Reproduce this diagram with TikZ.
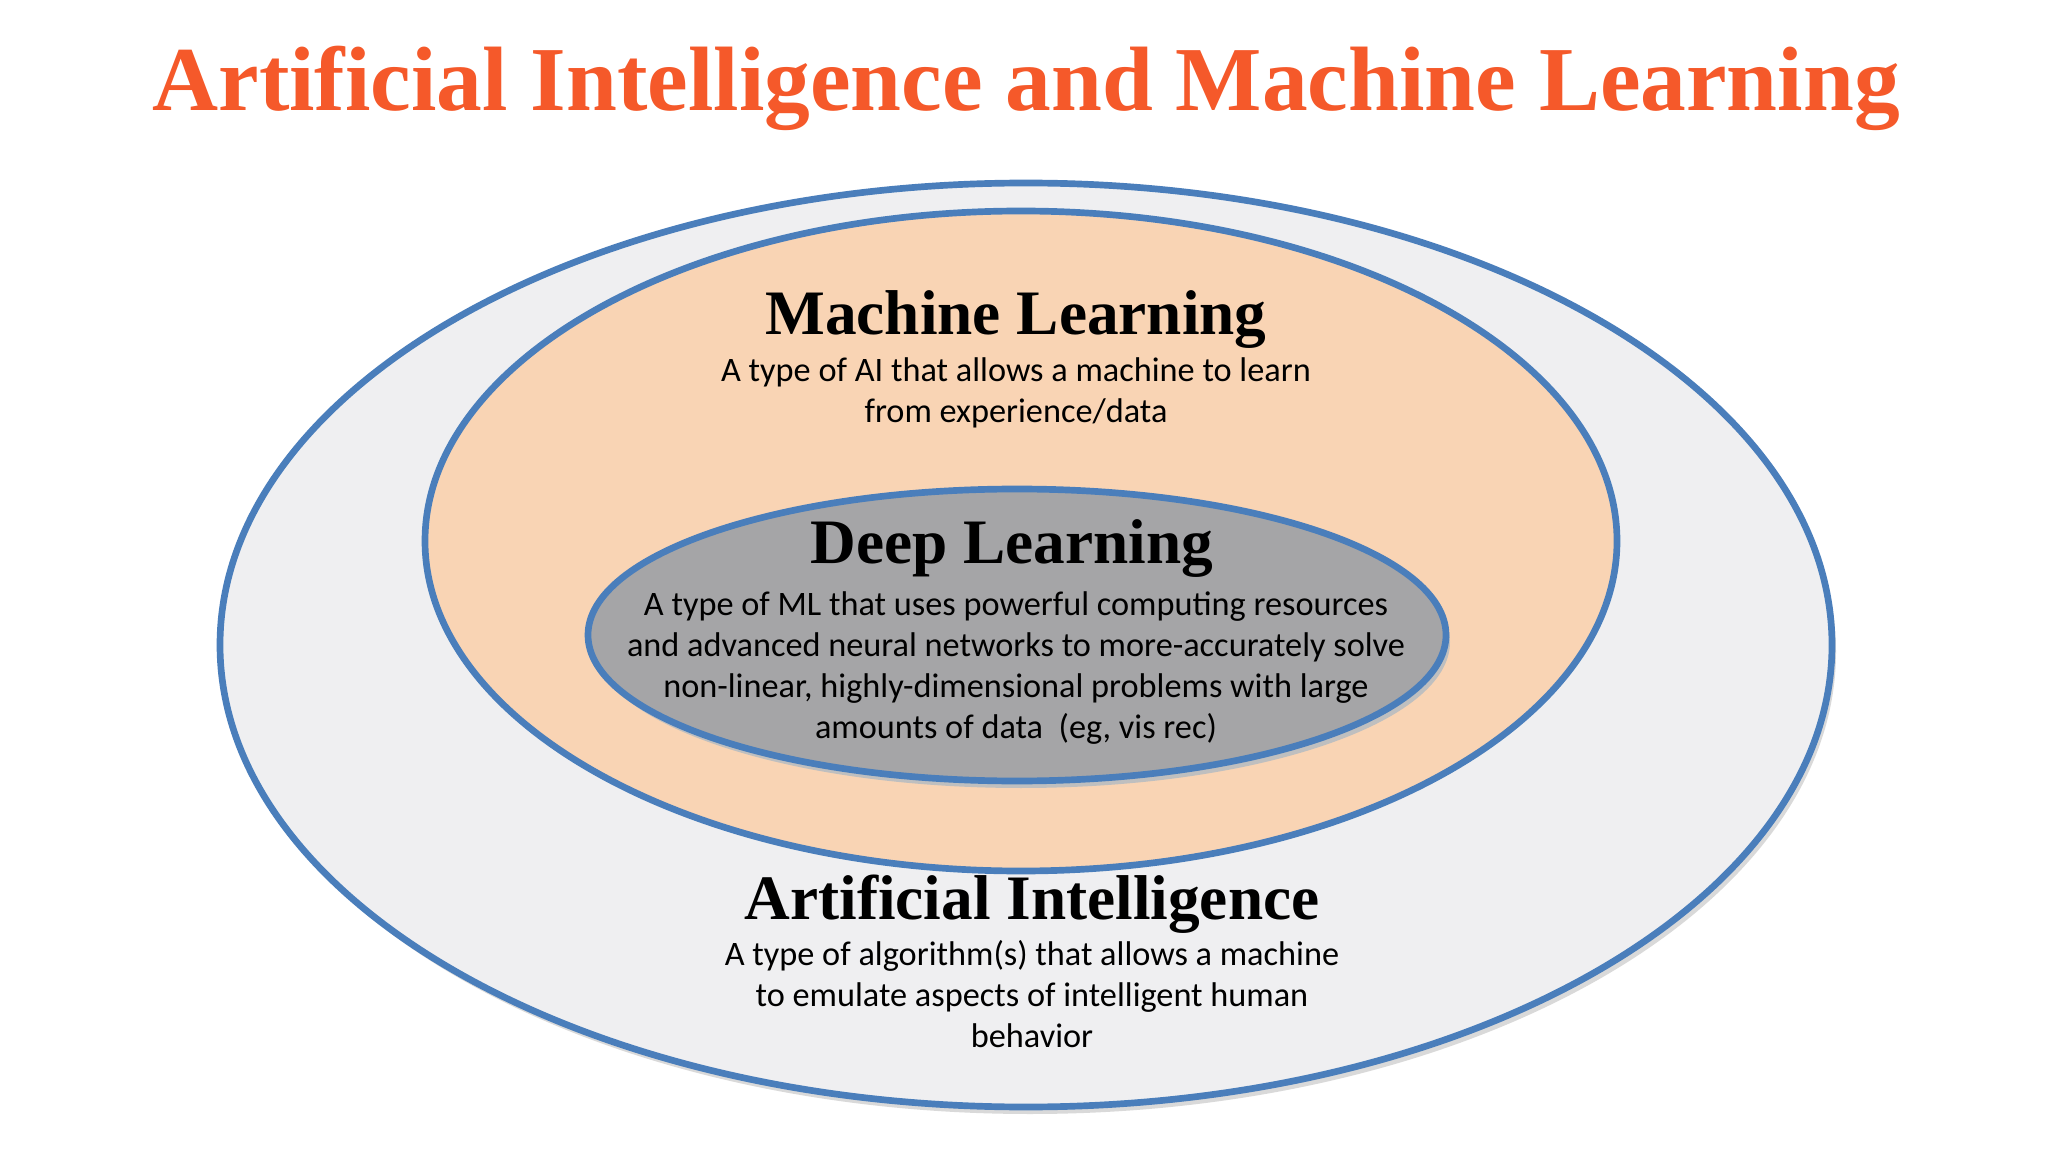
\documentclass[tikz,border=0pt]{standalone}
\usepackage{fontspec}
\setmainfont{Carlito}
\newfontfamily\headfont{Liberation Serif}
\definecolor{ttl}{HTML}{F5592A}
\definecolor{edge}{HTML}{4A7EBB}
\definecolor{aifill}{HTML}{EFEFF1}
\definecolor{mlfill}{HTML}{F9D4B4}
\definecolor{dlfill}{HTML}{A5A5A7}
\tikzset{ring/.style={draw=edge,line width=1.9pt},
head/.style={font=\headfont\bfseries\fontsize{18}{20}\selectfont,text=black},
body/.style={font=\fontsize{9.75}{11.6}\selectfont,align=center,text=black}}
\begin{document}
\begin{tikzpicture}[x=0.01cm,y=-0.01cm]
\useasboundingbox (0,0) rectangle (2048,1152);
\fill[white] (0,0) rectangle (2048,1152);
\node[font=\headfont\bfseries\fontsize{26}{28}\selectfont,text=ttl] (title) at (1026,88) {Artificial Intelligence and Machine Learning};
\fill[black!15] (1030,652) ellipse [x radius=806,y radius=462];
\draw[ring,fill=aifill] (1026,645) ellipse [x radius=806,y radius=462];
\draw[ring,fill=mlfill] (1021,541) ellipse [x radius=596,y radius=330];
\fill[black!25] (1021,642) ellipse [x radius=429,y radius=146];
\draw[ring,fill=dlfill] (1017,635) ellipse [x radius=429,y radius=146];
\node[head] (mlh) at (1016,320) {Machine Learning};
\node[body] (mlt) at (1016,393) {A type of AI that allows a machine to learn\\from experience/data};
\node[head] (dlh) at (1012,549) {Deep Learning};
\node[body] (dlt) at (1016,668) {A type of ML that uses powerful computing resources\\and advanced neural networks to more-accurately solve\\non-linear, highly-dimensional problems with large\\amounts of data\ \ (eg, vis rec)};
\node[head] (aih) at (1032,904) {Artificial Intelligence};
\node[body] (ait) at (1032,994) {A type of algorithm(s) that allows a machine\\to emulate aspects of intelligent human\\behavior};
\end{tikzpicture}
\end{document}
